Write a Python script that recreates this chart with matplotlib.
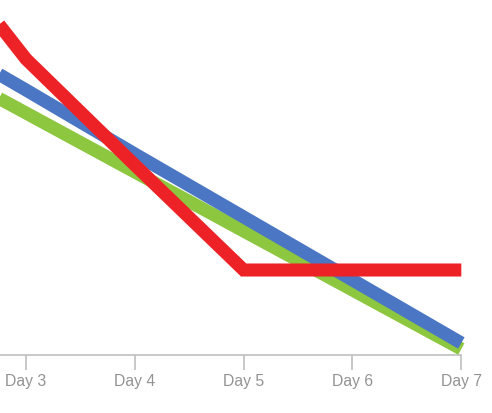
import matplotlib
matplotlib.use("Agg")
import matplotlib.pyplot as plt

days = [1, 2, 3, 4, 5, 6, 7]
day_labels = ["Day 1", "Day 2", "Day 3", "Day 4", "Day 5", "Day 6", "Day 7"]
ideal = [36.0, 30.1, 24.2, 18.3, 12.4, 6.5, 0.6]
trend = [39.1, 32.8, 26.5, 20.1, 13.8, 7.5, 1.2]
actual = [56.0, 43.5, 29.6, 19.0, 8.5, 8.5, 8.5]

fig = plt.figure(figsize=(4.92, 4.13), dpi=100)
ax = fig.add_axes([0, 58 / 413, 1, 355 / 413])

lw = 9.4
ax.plot(days, ideal, color="#8dc63f", lw=lw, solid_capstyle="butt", solid_joinstyle="miter", zorder=2)
ax.plot(days, trend, color="#4a76c4", lw=lw, solid_capstyle="butt", solid_joinstyle="miter", zorder=3)
ax.plot(days, actual, color="#ed2227", lw=lw, solid_capstyle="butt", solid_joinstyle="miter", zorder=4)

xmin, xmax = 2.761, 7.282

for s in ["left", "right", "top"]:
    ax.spines[s].set_visible(False)
ax.spines["bottom"].set_color("#bfbfbf")
ax.spines["bottom"].set_linewidth(1.2)
ax.spines["bottom"].set_bounds(xmin, 7)

ax.set_yticks([])
ax.set_xticks(days)
ax.set_xticklabels(day_labels, family=["Liberation Sans", "DejaVu Sans"], fontsize=11.3, color="#939393")
ax.tick_params(axis="x", direction="out", length=10.8, width=1.2, color="#bfbfbf", pad=3)

ax.set_xlim(xmin, xmax)
ax.set_ylim(0, 35.5)

fig.savefig("out.png", dpi=100)
